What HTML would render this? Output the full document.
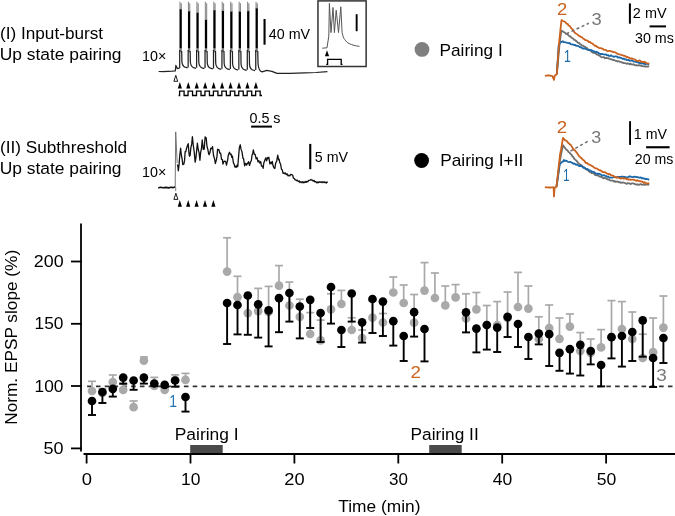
<!DOCTYPE html>
<html><head><meta charset="utf-8"><title>Figure</title>
<style>html,body{margin:0;padding:0;background:#fff;width:675px;height:516px;overflow:hidden}svg{display:block}</style>
</head><body>
<svg width="675" height="516" viewBox="0 0 675 516" font-family="Liberation Sans, Arial, Helvetica, sans-serif">
<rect width="675" height="516" fill="#fff"/>
<g stroke="#000" stroke-width="1.8" fill="none">
<line x1="81" y1="223.5" x2="81" y2="451.5"/>
<line x1="71" y1="261.5" x2="81.9" y2="261.5"/>
<line x1="71" y1="323.8" x2="81.9" y2="323.8"/>
<line x1="71" y1="386" x2="81.9" y2="386"/>
<line x1="71" y1="448.4" x2="81.9" y2="448.4"/>
<line x1="83.5" y1="454" x2="675" y2="454"/>
<line x1="86.6" y1="453" x2="86.6" y2="463.5"/>
<line x1="190.5" y1="453" x2="190.5" y2="463.5"/>
<line x1="294.4" y1="453" x2="294.4" y2="463.5"/>
<line x1="398.3" y1="453" x2="398.3" y2="463.5"/>
<line x1="502.2" y1="453" x2="502.2" y2="463.5"/>
<line x1="606.1" y1="453" x2="606.1" y2="463.5"/>
</g>
<line x1="87.1" y1="386.4" x2="675" y2="386.4" stroke="#333" stroke-width="1.7" stroke-dasharray="4.6 4.2"/>
<rect x="190.2" y="445" width="32.5" height="8" fill="#4a4a4a"/>
<rect x="429.2" y="445" width="32.5" height="8" fill="#4a4a4a"/>
<g stroke="#a9a9a9" stroke-width="1.7" fill="#a9a9a9">
<line x1="92.0" y1="391" x2="92.0" y2="381.3"/>
<line x1="88.0" y1="381.3" x2="96.0" y2="381.3"/>
<line x1="102.4" y1="393" x2="102.4" y2="389"/>
<line x1="98.4" y1="389" x2="106.4" y2="389"/>
<line x1="112.8" y1="382" x2="112.8" y2="375"/>
<line x1="108.8" y1="375" x2="116.8" y2="375"/>
<line x1="123.2" y1="389.8" x2="123.2" y2="383"/>
<line x1="119.2" y1="383" x2="127.2" y2="383"/>
<line x1="133.6" y1="407.2" x2="133.6" y2="401"/>
<line x1="129.6" y1="401" x2="137.6" y2="401"/>
<line x1="143.9" y1="360.6" x2="143.9" y2="357"/>
<line x1="139.9" y1="357" x2="147.9" y2="357"/>
<line x1="154.3" y1="386" x2="154.3" y2="377.4"/>
<line x1="150.3" y1="377.4" x2="158.3" y2="377.4"/>
<line x1="164.7" y1="389.8" x2="164.7" y2="386"/>
<line x1="160.7" y1="386" x2="168.7" y2="386"/>
<line x1="175.1" y1="380" x2="175.1" y2="374.9"/>
<line x1="171.1" y1="374.9" x2="179.1" y2="374.9"/>
<line x1="185.5" y1="379.9" x2="185.5" y2="373.4"/>
<line x1="181.5" y1="373.4" x2="189.5" y2="373.4"/>
<line x1="227.1" y1="271.6" x2="227.1" y2="237.8"/>
<line x1="223.1" y1="237.8" x2="231.1" y2="237.8"/>
<line x1="237.5" y1="297.2" x2="237.5" y2="276.3"/>
<line x1="233.5" y1="276.3" x2="241.5" y2="276.3"/>
<line x1="247.8" y1="313.1" x2="247.8" y2="297"/>
<line x1="243.8" y1="297" x2="251.8" y2="297"/>
<line x1="258.2" y1="311.1" x2="258.2" y2="288.4"/>
<line x1="254.2" y1="288.4" x2="262.2" y2="288.4"/>
<line x1="268.6" y1="312" x2="268.6" y2="286.4"/>
<line x1="264.6" y1="286.4" x2="272.6" y2="286.4"/>
<line x1="279.0" y1="285.7" x2="279.0" y2="265.6"/>
<line x1="275.0" y1="265.6" x2="283.0" y2="265.6"/>
<line x1="289.4" y1="305.5" x2="289.4" y2="282.1"/>
<line x1="285.4" y1="282.1" x2="293.4" y2="282.1"/>
<line x1="299.8" y1="316.8" x2="299.8" y2="299.2"/>
<line x1="295.8" y1="299.2" x2="303.8" y2="299.2"/>
<line x1="310.2" y1="334" x2="310.2" y2="312.6"/>
<line x1="306.2" y1="312.6" x2="314.2" y2="312.6"/>
<line x1="320.6" y1="340.4" x2="320.6" y2="320.1"/>
<line x1="316.6" y1="320.1" x2="324.6" y2="320.1"/>
<line x1="331.0" y1="309.4" x2="331.0" y2="293.8"/>
<line x1="327.0" y1="293.8" x2="335.0" y2="293.8"/>
<line x1="341.4" y1="304" x2="341.4" y2="290.4"/>
<line x1="337.4" y1="290.4" x2="345.4" y2="290.4"/>
<line x1="351.7" y1="330" x2="351.7" y2="317.8"/>
<line x1="347.7" y1="317.8" x2="355.7" y2="317.8"/>
<line x1="362.1" y1="338" x2="362.1" y2="330"/>
<line x1="358.1" y1="330" x2="366.1" y2="330"/>
<line x1="372.5" y1="317.7" x2="372.5" y2="301"/>
<line x1="368.5" y1="301" x2="376.5" y2="301"/>
<line x1="382.9" y1="322.5" x2="382.9" y2="313.5"/>
<line x1="378.9" y1="313.5" x2="386.9" y2="313.5"/>
<line x1="393.3" y1="292.5" x2="393.3" y2="277"/>
<line x1="389.3" y1="277" x2="397.3" y2="277"/>
<line x1="403.7" y1="303" x2="403.7" y2="285"/>
<line x1="399.7" y1="285" x2="407.7" y2="285"/>
<line x1="414.1" y1="322.7" x2="414.1" y2="294.5"/>
<line x1="410.1" y1="294.5" x2="418.1" y2="294.5"/>
<line x1="424.5" y1="290.6" x2="424.5" y2="262.6"/>
<line x1="420.5" y1="262.6" x2="428.5" y2="262.6"/>
<line x1="434.9" y1="298" x2="434.9" y2="273"/>
<line x1="430.9" y1="273" x2="438.9" y2="273"/>
<line x1="445.3" y1="305.4" x2="445.3" y2="286"/>
<line x1="441.3" y1="286" x2="449.3" y2="286"/>
<line x1="455.6" y1="297.4" x2="455.6" y2="284.6"/>
<line x1="451.6" y1="284.6" x2="459.6" y2="284.6"/>
<line x1="466.0" y1="318.5" x2="466.0" y2="293.8"/>
<line x1="462.0" y1="293.8" x2="470.0" y2="293.8"/>
<line x1="476.4" y1="309.4" x2="476.4" y2="292.5"/>
<line x1="472.4" y1="292.5" x2="480.4" y2="292.5"/>
<line x1="486.8" y1="325" x2="486.8" y2="305.5"/>
<line x1="482.8" y1="305.5" x2="490.8" y2="305.5"/>
<line x1="497.2" y1="325" x2="497.2" y2="301.6"/>
<line x1="493.2" y1="301.6" x2="501.2" y2="301.6"/>
<line x1="507.6" y1="318" x2="507.6" y2="292"/>
<line x1="503.6" y1="292" x2="511.6" y2="292"/>
<line x1="518.0" y1="307" x2="518.0" y2="272.4"/>
<line x1="514.0" y1="272.4" x2="522.0" y2="272.4"/>
<line x1="528.4" y1="308.6" x2="528.4" y2="286"/>
<line x1="524.4" y1="286" x2="532.4" y2="286"/>
<line x1="538.8" y1="339" x2="538.8" y2="316.8"/>
<line x1="534.8" y1="316.8" x2="542.8" y2="316.8"/>
<line x1="549.2" y1="328" x2="549.2" y2="305"/>
<line x1="545.2" y1="305" x2="553.2" y2="305"/>
<line x1="559.5" y1="338.8" x2="559.5" y2="318"/>
<line x1="555.5" y1="318" x2="563.5" y2="318"/>
<line x1="569.9" y1="326.6" x2="569.9" y2="314"/>
<line x1="565.9" y1="314" x2="573.9" y2="314"/>
<line x1="580.3" y1="350.8" x2="580.3" y2="332.6"/>
<line x1="576.3" y1="332.6" x2="584.3" y2="332.6"/>
<line x1="590.7" y1="353" x2="590.7" y2="339"/>
<line x1="586.7" y1="339" x2="594.7" y2="339"/>
<line x1="601.1" y1="347.4" x2="601.1" y2="329.6"/>
<line x1="597.1" y1="329.6" x2="605.1" y2="329.6"/>
<line x1="611.5" y1="337" x2="611.5" y2="300.6"/>
<line x1="607.5" y1="300.6" x2="615.5" y2="300.6"/>
<line x1="621.9" y1="329" x2="621.9" y2="301.6"/>
<line x1="617.9" y1="301.6" x2="625.9" y2="301.6"/>
<line x1="632.3" y1="339" x2="632.3" y2="312"/>
<line x1="628.3" y1="312" x2="636.3" y2="312"/>
<line x1="642.7" y1="358" x2="642.7" y2="334.2"/>
<line x1="638.7" y1="334.2" x2="646.7" y2="334.2"/>
<line x1="653.1" y1="352.2" x2="653.1" y2="318"/>
<line x1="649.1" y1="318" x2="657.1" y2="318"/>
<line x1="663.4" y1="327.6" x2="663.4" y2="296"/>
<line x1="659.4" y1="296" x2="667.4" y2="296"/>
<circle cx="92.0" cy="391" r="4.35" stroke="none"/>
<circle cx="102.4" cy="393" r="4.35" stroke="none"/>
<circle cx="112.8" cy="382" r="4.35" stroke="none"/>
<circle cx="123.2" cy="389.8" r="4.35" stroke="none"/>
<circle cx="133.6" cy="407.2" r="4.35" stroke="none"/>
<circle cx="143.9" cy="360.6" r="4.35" stroke="none"/>
<circle cx="154.3" cy="386" r="4.35" stroke="none"/>
<circle cx="164.7" cy="389.8" r="4.35" stroke="none"/>
<circle cx="175.1" cy="380" r="4.35" stroke="none"/>
<circle cx="185.5" cy="379.9" r="4.35" stroke="none"/>
<circle cx="227.1" cy="271.6" r="4.35" stroke="none"/>
<circle cx="237.5" cy="297.2" r="4.35" stroke="none"/>
<circle cx="247.8" cy="313.1" r="4.35" stroke="none"/>
<circle cx="258.2" cy="311.1" r="4.35" stroke="none"/>
<circle cx="268.6" cy="312" r="4.35" stroke="none"/>
<circle cx="279.0" cy="285.7" r="4.35" stroke="none"/>
<circle cx="289.4" cy="305.5" r="4.35" stroke="none"/>
<circle cx="299.8" cy="316.8" r="4.35" stroke="none"/>
<circle cx="310.2" cy="334" r="4.35" stroke="none"/>
<circle cx="320.6" cy="340.4" r="4.35" stroke="none"/>
<circle cx="331.0" cy="309.4" r="4.35" stroke="none"/>
<circle cx="341.4" cy="304" r="4.35" stroke="none"/>
<circle cx="351.7" cy="330" r="4.35" stroke="none"/>
<circle cx="362.1" cy="338" r="4.35" stroke="none"/>
<circle cx="372.5" cy="317.7" r="4.35" stroke="none"/>
<circle cx="382.9" cy="322.5" r="4.35" stroke="none"/>
<circle cx="393.3" cy="292.5" r="4.35" stroke="none"/>
<circle cx="403.7" cy="303" r="4.35" stroke="none"/>
<circle cx="414.1" cy="322.7" r="4.35" stroke="none"/>
<circle cx="424.5" cy="290.6" r="4.35" stroke="none"/>
<circle cx="434.9" cy="298" r="4.35" stroke="none"/>
<circle cx="445.3" cy="305.4" r="4.35" stroke="none"/>
<circle cx="455.6" cy="297.4" r="4.35" stroke="none"/>
<circle cx="466.0" cy="318.5" r="4.35" stroke="none"/>
<circle cx="476.4" cy="309.4" r="4.35" stroke="none"/>
<circle cx="486.8" cy="325" r="4.35" stroke="none"/>
<circle cx="497.2" cy="325" r="4.35" stroke="none"/>
<circle cx="507.6" cy="318" r="4.35" stroke="none"/>
<circle cx="518.0" cy="307" r="4.35" stroke="none"/>
<circle cx="528.4" cy="308.6" r="4.35" stroke="none"/>
<circle cx="538.8" cy="339" r="4.35" stroke="none"/>
<circle cx="549.2" cy="328" r="4.35" stroke="none"/>
<circle cx="559.5" cy="338.8" r="4.35" stroke="none"/>
<circle cx="569.9" cy="326.6" r="4.35" stroke="none"/>
<circle cx="580.3" cy="350.8" r="4.35" stroke="none"/>
<circle cx="590.7" cy="353" r="4.35" stroke="none"/>
<circle cx="601.1" cy="347.4" r="4.35" stroke="none"/>
<circle cx="611.5" cy="337" r="4.35" stroke="none"/>
<circle cx="621.9" cy="329" r="4.35" stroke="none"/>
<circle cx="632.3" cy="339" r="4.35" stroke="none"/>
<circle cx="642.7" cy="358" r="4.35" stroke="none"/>
<circle cx="653.1" cy="352.2" r="4.35" stroke="none"/>
<circle cx="663.4" cy="327.6" r="4.35" stroke="none"/>
</g>
<g stroke="#000" stroke-width="1.9" fill="#000">
<line x1="92.0" y1="401" x2="92.0" y2="415"/>
<line x1="88.0" y1="415" x2="96.0" y2="415"/>
<line x1="102.4" y1="392" x2="102.4" y2="403"/>
<line x1="98.4" y1="403" x2="106.4" y2="403"/>
<line x1="112.8" y1="388.8" x2="112.8" y2="396.6"/>
<line x1="108.8" y1="396.6" x2="116.8" y2="396.6"/>
<line x1="123.2" y1="377.6" x2="123.2" y2="383.8"/>
<line x1="119.2" y1="383.8" x2="127.2" y2="383.8"/>
<line x1="133.6" y1="380.5" x2="133.6" y2="389.8"/>
<line x1="129.6" y1="389.8" x2="137.6" y2="389.8"/>
<line x1="143.9" y1="377.6" x2="143.9" y2="383.6"/>
<line x1="139.9" y1="383.6" x2="147.9" y2="383.6"/>
<line x1="154.3" y1="383.5" x2="154.3" y2="386"/>
<line x1="150.3" y1="386" x2="158.3" y2="386"/>
<line x1="164.7" y1="384.8" x2="164.7" y2="387"/>
<line x1="160.7" y1="387" x2="168.7" y2="387"/>
<line x1="175.1" y1="380.5" x2="175.1" y2="386.7"/>
<line x1="171.1" y1="386.7" x2="179.1" y2="386.7"/>
<line x1="185.5" y1="397" x2="185.5" y2="411.6"/>
<line x1="181.5" y1="411.6" x2="189.5" y2="411.6"/>
<line x1="227.1" y1="303" x2="227.1" y2="344"/>
<line x1="223.1" y1="344" x2="231.1" y2="344"/>
<line x1="237.5" y1="305" x2="237.5" y2="334.4"/>
<line x1="233.5" y1="334.4" x2="241.5" y2="334.4"/>
<line x1="247.8" y1="295.5" x2="247.8" y2="334.8"/>
<line x1="243.8" y1="334.8" x2="251.8" y2="334.8"/>
<line x1="258.2" y1="304.3" x2="258.2" y2="337.6"/>
<line x1="254.2" y1="337.6" x2="262.2" y2="337.6"/>
<line x1="268.6" y1="310.4" x2="268.6" y2="346.4"/>
<line x1="264.6" y1="346.4" x2="272.6" y2="346.4"/>
<line x1="279.0" y1="298.2" x2="279.0" y2="332.2"/>
<line x1="275.0" y1="332.2" x2="283.0" y2="332.2"/>
<line x1="289.4" y1="293" x2="289.4" y2="321.6"/>
<line x1="285.4" y1="321.6" x2="293.4" y2="321.6"/>
<line x1="299.8" y1="306.5" x2="299.8" y2="338.4"/>
<line x1="295.8" y1="338.4" x2="303.8" y2="338.4"/>
<line x1="310.2" y1="299.8" x2="310.2" y2="328"/>
<line x1="306.2" y1="328" x2="314.2" y2="328"/>
<line x1="320.6" y1="313" x2="320.6" y2="342"/>
<line x1="316.6" y1="342" x2="324.6" y2="342"/>
<line x1="331.0" y1="287" x2="331.0" y2="323.6"/>
<line x1="327.0" y1="323.6" x2="335.0" y2="323.6"/>
<line x1="341.4" y1="330" x2="341.4" y2="347"/>
<line x1="337.4" y1="347" x2="345.4" y2="347"/>
<line x1="351.7" y1="293.5" x2="351.7" y2="321.6"/>
<line x1="347.7" y1="321.6" x2="355.7" y2="321.6"/>
<line x1="362.1" y1="322.3" x2="362.1" y2="342.6"/>
<line x1="358.1" y1="342.6" x2="366.1" y2="342.6"/>
<line x1="372.5" y1="299" x2="372.5" y2="333"/>
<line x1="368.5" y1="333" x2="376.5" y2="333"/>
<line x1="382.9" y1="301.6" x2="382.9" y2="336"/>
<line x1="378.9" y1="336" x2="386.9" y2="336"/>
<line x1="393.3" y1="321.2" x2="393.3" y2="345.6"/>
<line x1="389.3" y1="345.6" x2="397.3" y2="345.6"/>
<line x1="403.7" y1="336" x2="403.7" y2="361"/>
<line x1="399.7" y1="361" x2="407.7" y2="361"/>
<line x1="414.1" y1="312.2" x2="414.1" y2="336.6"/>
<line x1="410.1" y1="336.6" x2="418.1" y2="336.6"/>
<line x1="424.5" y1="329" x2="424.5" y2="361.4"/>
<line x1="420.5" y1="361.4" x2="428.5" y2="361.4"/>
<line x1="466.0" y1="312.4" x2="466.0" y2="332.4"/>
<line x1="462.0" y1="332.4" x2="470.0" y2="332.4"/>
<line x1="476.4" y1="328.6" x2="476.4" y2="352.4"/>
<line x1="472.4" y1="352.4" x2="480.4" y2="352.4"/>
<line x1="486.8" y1="325" x2="486.8" y2="349.6"/>
<line x1="482.8" y1="349.6" x2="490.8" y2="349.6"/>
<line x1="497.2" y1="327.6" x2="497.2" y2="352"/>
<line x1="493.2" y1="352" x2="501.2" y2="352"/>
<line x1="507.6" y1="316.8" x2="507.6" y2="337"/>
<line x1="503.6" y1="337" x2="511.6" y2="337"/>
<line x1="518.0" y1="324" x2="518.0" y2="347"/>
<line x1="514.0" y1="347" x2="522.0" y2="347"/>
<line x1="528.4" y1="337" x2="528.4" y2="359"/>
<line x1="524.4" y1="359" x2="532.4" y2="359"/>
<line x1="538.8" y1="333.6" x2="538.8" y2="344.4"/>
<line x1="534.8" y1="344.4" x2="542.8" y2="344.4"/>
<line x1="549.2" y1="334.2" x2="549.2" y2="366"/>
<line x1="545.2" y1="366" x2="553.2" y2="366"/>
<line x1="559.5" y1="352.8" x2="559.5" y2="370.8"/>
<line x1="555.5" y1="370.8" x2="563.5" y2="370.8"/>
<line x1="569.9" y1="349.2" x2="569.9" y2="373.6"/>
<line x1="565.9" y1="373.6" x2="573.9" y2="373.6"/>
<line x1="580.3" y1="344.8" x2="580.3" y2="375.5"/>
<line x1="576.3" y1="375.5" x2="584.3" y2="375.5"/>
<line x1="590.7" y1="351" x2="590.7" y2="364.4"/>
<line x1="586.7" y1="364.4" x2="594.7" y2="364.4"/>
<line x1="601.1" y1="365" x2="601.1" y2="386.4"/>
<line x1="597.1" y1="386.4" x2="605.1" y2="386.4"/>
<line x1="611.5" y1="337.2" x2="611.5" y2="358.4"/>
<line x1="607.5" y1="358.4" x2="615.5" y2="358.4"/>
<line x1="621.9" y1="336" x2="621.9" y2="366.6"/>
<line x1="617.9" y1="366.6" x2="625.9" y2="366.6"/>
<line x1="632.3" y1="332" x2="632.3" y2="361"/>
<line x1="628.3" y1="361" x2="636.3" y2="361"/>
<line x1="642.7" y1="320.4" x2="642.7" y2="356.7"/>
<line x1="638.7" y1="356.7" x2="646.7" y2="356.7"/>
<line x1="653.1" y1="358" x2="653.1" y2="387"/>
<line x1="649.1" y1="387" x2="657.1" y2="387"/>
<line x1="663.4" y1="338" x2="663.4" y2="363"/>
<line x1="659.4" y1="363" x2="667.4" y2="363"/>
<circle cx="92.0" cy="401" r="4.35" stroke="none"/>
<circle cx="102.4" cy="392" r="4.35" stroke="none"/>
<circle cx="112.8" cy="388.8" r="4.35" stroke="none"/>
<circle cx="123.2" cy="377.6" r="4.35" stroke="none"/>
<circle cx="133.6" cy="380.5" r="4.35" stroke="none"/>
<circle cx="143.9" cy="377.6" r="4.35" stroke="none"/>
<circle cx="154.3" cy="383.5" r="4.35" stroke="none"/>
<circle cx="164.7" cy="384.8" r="4.35" stroke="none"/>
<circle cx="175.1" cy="380.5" r="4.35" stroke="none"/>
<circle cx="185.5" cy="397" r="4.35" stroke="none"/>
<circle cx="227.1" cy="303" r="4.35" stroke="none"/>
<circle cx="237.5" cy="305" r="4.35" stroke="none"/>
<circle cx="247.8" cy="295.5" r="4.35" stroke="none"/>
<circle cx="258.2" cy="304.3" r="4.35" stroke="none"/>
<circle cx="268.6" cy="310.4" r="4.35" stroke="none"/>
<circle cx="279.0" cy="298.2" r="4.35" stroke="none"/>
<circle cx="289.4" cy="293" r="4.35" stroke="none"/>
<circle cx="299.8" cy="306.5" r="4.35" stroke="none"/>
<circle cx="310.2" cy="299.8" r="4.35" stroke="none"/>
<circle cx="320.6" cy="313" r="4.35" stroke="none"/>
<circle cx="331.0" cy="287" r="4.35" stroke="none"/>
<circle cx="341.4" cy="330" r="4.35" stroke="none"/>
<circle cx="351.7" cy="293.5" r="4.35" stroke="none"/>
<circle cx="362.1" cy="322.3" r="4.35" stroke="none"/>
<circle cx="372.5" cy="299" r="4.35" stroke="none"/>
<circle cx="382.9" cy="301.6" r="4.35" stroke="none"/>
<circle cx="393.3" cy="321.2" r="4.35" stroke="none"/>
<circle cx="403.7" cy="336" r="4.35" stroke="none"/>
<circle cx="414.1" cy="312.2" r="4.35" stroke="none"/>
<circle cx="424.5" cy="329" r="4.35" stroke="none"/>
<circle cx="466.0" cy="312.4" r="4.35" stroke="none"/>
<circle cx="476.4" cy="328.6" r="4.35" stroke="none"/>
<circle cx="486.8" cy="325" r="4.35" stroke="none"/>
<circle cx="497.2" cy="327.6" r="4.35" stroke="none"/>
<circle cx="507.6" cy="316.8" r="4.35" stroke="none"/>
<circle cx="518.0" cy="324" r="4.35" stroke="none"/>
<circle cx="528.4" cy="337" r="4.35" stroke="none"/>
<circle cx="538.8" cy="333.6" r="4.35" stroke="none"/>
<circle cx="549.2" cy="334.2" r="4.35" stroke="none"/>
<circle cx="559.5" cy="352.8" r="4.35" stroke="none"/>
<circle cx="569.9" cy="349.2" r="4.35" stroke="none"/>
<circle cx="580.3" cy="344.8" r="4.35" stroke="none"/>
<circle cx="590.7" cy="351" r="4.35" stroke="none"/>
<circle cx="601.1" cy="365" r="4.35" stroke="none"/>
<circle cx="611.5" cy="337.2" r="4.35" stroke="none"/>
<circle cx="621.9" cy="336" r="4.35" stroke="none"/>
<circle cx="632.3" cy="332" r="4.35" stroke="none"/>
<circle cx="642.7" cy="320.4" r="4.35" stroke="none"/>
<circle cx="653.1" cy="358" r="4.35" stroke="none"/>
<circle cx="663.4" cy="338" r="4.35" stroke="none"/>
</g>
<text x="33.80" y="266.8" font-size="16.4" fill="#000" textLength="29.80" lengthAdjust="spacingAndGlyphs">200</text>
<text x="34.58" y="329.0" font-size="16.4" fill="#000" textLength="28.90" lengthAdjust="spacingAndGlyphs">150</text>
<text x="34.58" y="391.6" font-size="16.4" fill="#000" textLength="28.90" lengthAdjust="spacingAndGlyphs">100</text>
<text x="43.48" y="454.0" font-size="16.4" fill="#000" textLength="20.02" lengthAdjust="spacingAndGlyphs">50</text>
<text x="81.88" y="484.8" font-size="16.4" fill="#000" textLength="10.24" lengthAdjust="spacingAndGlyphs">0</text>
<text x="181.07" y="484.8" font-size="16.4" fill="#000" textLength="19.41" lengthAdjust="spacingAndGlyphs">10</text>
<text x="284.28" y="484.8" font-size="16.4" fill="#000" textLength="20.33" lengthAdjust="spacingAndGlyphs">20</text>
<text x="389.05" y="484.8" font-size="16.4" fill="#000" textLength="18.91" lengthAdjust="spacingAndGlyphs">30</text>
<text x="492.80" y="484.8" font-size="16.4" fill="#000" textLength="19.49" lengthAdjust="spacingAndGlyphs">40</text>
<text x="596.69" y="484.8" font-size="16.4" fill="#000" textLength="19.59" lengthAdjust="spacingAndGlyphs">50</text>
<text x="338.31" y="511.9" font-size="17.2" fill="#000" textLength="82.15" lengthAdjust="spacingAndGlyphs">Time (min)</text>
<text x="174.77" y="439.6" font-size="16.9" fill="#000" textLength="63.83" lengthAdjust="spacingAndGlyphs">Pairing I</text>
<text x="410.58" y="439.6" font-size="16.9" fill="#000" textLength="68.11" lengthAdjust="spacingAndGlyphs">Pairing II</text>
<text transform="translate(16.9 423.4) rotate(-90)" x="-1.41" y="0" font-size="17.3" textLength="174.98" lengthAdjust="spacingAndGlyphs">Norm. EPSP slope (%)</text>
<text x="169.24" y="407.2" font-size="16.5" fill="#1f74b8" textLength="7.74" lengthAdjust="spacingAndGlyphs">1</text>
<text x="410.46" y="377.9" font-size="16.8" fill="#cc641e" textLength="10.38" lengthAdjust="spacingAndGlyphs">2</text>
<text x="656.28" y="380.6" font-size="16.5" fill="#7a7a7a" textLength="10.56" lengthAdjust="spacingAndGlyphs">3</text>
<text x="-0.07" y="39.2" font-size="16.9" fill="#000" textLength="103.19" lengthAdjust="spacingAndGlyphs">(I) Input-burst</text>
<text x="-0.34" y="60.0" font-size="16.9" fill="#000" textLength="121.86" lengthAdjust="spacingAndGlyphs">Up state pairing</text>
<text x="-0.07" y="153.2" font-size="16.9" fill="#000" textLength="127.18" lengthAdjust="spacingAndGlyphs">(II) Subthreshold</text>
<text x="-0.34" y="173.8" font-size="16.9" fill="#000" textLength="121.86" lengthAdjust="spacingAndGlyphs">Up state pairing</text>
<text x="142.01" y="61.2" font-size="13.8" fill="#000" textLength="24.28" lengthAdjust="spacingAndGlyphs">10×</text>
<text x="142.01" y="177.4" font-size="13.8" fill="#000" textLength="24.28" lengthAdjust="spacingAndGlyphs">10×</text>
<rect x="179.50" y="8.9" width="2.3" height="39.7" fill="#000"/>
<rect x="179.50" y="48.6" width="2.3" height="3.6" fill="#777"/>
<path d="M180.00 9.4 L180.00 1.8 M181.30 9.4 L181.30 3.2" stroke="#8c8c8c" stroke-width="1.1" fill="none"/>
<rect x="187.95" y="11" width="2.3" height="37.6" fill="#000"/>
<rect x="187.95" y="48.6" width="2.3" height="3.6" fill="#777"/>
<path d="M188.45 11.5 L188.45 1.8 M189.75 11.5 L189.75 3.2" stroke="#8c8c8c" stroke-width="1.1" fill="none"/>
<rect x="196.40" y="12.4" width="2.3" height="36.2" fill="#000"/>
<rect x="196.40" y="48.6" width="2.3" height="3.6" fill="#777"/>
<path d="M196.90 12.9 L196.90 1.8 M198.20 12.9 L198.20 3.2" stroke="#8c8c8c" stroke-width="1.1" fill="none"/>
<rect x="204.85" y="19.5" width="2.3" height="29.1" fill="#000"/>
<rect x="204.85" y="48.6" width="2.3" height="3.6" fill="#777"/>
<path d="M205.35 20.0 L205.35 1.8 M206.65 20.0 L206.65 3.2" stroke="#8c8c8c" stroke-width="1.1" fill="none"/>
<rect x="213.30" y="10" width="2.3" height="38.6" fill="#000"/>
<rect x="213.30" y="48.6" width="2.3" height="3.6" fill="#777"/>
<path d="M213.80 10.5 L213.80 1.8 M215.10 10.5 L215.10 3.2" stroke="#8c8c8c" stroke-width="1.1" fill="none"/>
<rect x="221.75" y="10.4" width="2.3" height="38.2" fill="#000"/>
<rect x="221.75" y="48.6" width="2.3" height="3.6" fill="#777"/>
<path d="M222.25 10.9 L222.25 1.8 M223.55 10.9 L223.55 3.2" stroke="#8c8c8c" stroke-width="1.1" fill="none"/>
<rect x="230.20" y="11.2" width="2.3" height="37.4" fill="#000"/>
<rect x="230.20" y="48.6" width="2.3" height="3.6" fill="#777"/>
<path d="M230.70 11.7 L230.70 1.8 M232.00 11.7 L232.00 3.2" stroke="#8c8c8c" stroke-width="1.1" fill="none"/>
<rect x="238.65" y="11.2" width="2.3" height="37.4" fill="#000"/>
<rect x="238.65" y="48.6" width="2.3" height="3.6" fill="#777"/>
<path d="M239.15 11.7 L239.15 1.8 M240.45 11.7 L240.45 3.2" stroke="#8c8c8c" stroke-width="1.1" fill="none"/>
<rect x="247.10" y="10.7" width="2.3" height="37.9" fill="#000"/>
<rect x="247.10" y="48.6" width="2.3" height="3.6" fill="#777"/>
<path d="M247.60 11.2 L247.60 1.8 M248.90 11.2 L248.90 3.2" stroke="#8c8c8c" stroke-width="1.1" fill="none"/>
<rect x="255.55" y="7.9" width="2.3" height="40.7" fill="#000"/>
<rect x="255.55" y="48.6" width="2.3" height="3.6" fill="#777"/>
<path d="M256.05 8.4 L256.05 1.8 M257.35 8.4 L257.35 3.2" stroke="#8c8c8c" stroke-width="1.1" fill="none"/>
<path d="M158.6 71.5 L163.0 71.7 L168.0 71.3 L172.0 71.2 L175.3 71.0 L175.9 65.4 L177.3 68.6 L179.1 68.1 L179.7 67.5 L179.7 50 M179.70 67.0 L179.70 50 M181.70 51 L181.90 61.6 C182.20 65.1 183.40 66.6 185.10 67.2 L187.50 67.9 M188.15 67.4 L188.15 50 M190.15 51 L190.35 62.0 C190.65 65.5 191.85 67.0 193.55 67.6 L195.95 68.3 M196.60 67.7 L196.60 50 M198.60 51 L198.80 62.3 C199.10 65.8 200.30 67.3 202.00 67.9 L204.40 68.6 M205.05 68.0 L205.05 50 M207.05 51 L207.25 62.6 C207.55 66.1 208.75 67.6 210.45 68.2 L212.85 68.9 M213.50 68.4 L213.50 50 M215.50 51 L215.70 63.0 C216.00 66.5 217.20 68.0 218.90 68.6 L221.30 69.3 M221.95 68.7 L221.95 50 M223.95 51 L224.15 63.3 C224.45 66.8 225.65 68.3 227.35 68.9 L229.75 69.6 M230.40 69.1 L230.40 50 M232.40 51 L232.60 63.7 C232.90 67.2 234.10 68.7 235.80 69.3 L238.20 70.0 M238.85 69.4 L238.85 50 M240.85 51 L241.05 64.0 C241.35 67.5 242.55 69.0 244.25 69.6 L246.65 70.3 M247.30 69.8 L247.30 50 M249.30 51 L249.50 64.4 C249.80 67.9 251.00 69.4 252.70 70.0 L255.10 70.7 M255.75 70 L255.75 50 M257.75 51 L258.05 64 C258.55 69 260.05 71.5 262.15 71.8 L266.7 70.4 L271.9 71.3 L277 73.3 L290 73.3 L305 72.9 L316 72.5 L327.4 71.6" stroke="#222" stroke-width="1.25" fill="none" stroke-linejoin="round"/>
<polygon points="173.9,81.3 177.7,81.3 175.8,75.4" fill="#fff" stroke="#000" stroke-width="0.9"/>
<polygon points="177.75,88.5 181.95,88.5 179.85,81.9" fill="#000"/>
<polygon points="186.20,88.5 190.40,88.5 188.30,81.9" fill="#000"/>
<polygon points="194.65,88.5 198.85,88.5 196.75,81.9" fill="#000"/>
<polygon points="203.10,88.5 207.30,88.5 205.20,81.9" fill="#000"/>
<polygon points="211.55,88.5 215.75,88.5 213.65,81.9" fill="#000"/>
<polygon points="220.00,88.5 224.20,88.5 222.10,81.9" fill="#000"/>
<polygon points="228.45,88.5 232.65,88.5 230.55,81.9" fill="#000"/>
<polygon points="236.90,88.5 241.10,88.5 239.00,81.9" fill="#000"/>
<polygon points="245.35,88.5 249.55,88.5 247.45,81.9" fill="#000"/>
<polygon points="253.80,88.5 258.00,88.5 255.90,81.9" fill="#000"/>
<path d="M178.6 95.5 L179.60 95.5 L179.60 91.1 L184.10 91.1 L184.10 95.5 L188.05 95.5 L188.05 91.1 L192.55 91.1 L192.55 95.5 L196.50 95.5 L196.50 91.1 L201.00 91.1 L201.00 95.5 L204.95 95.5 L204.95 91.1 L209.45 91.1 L209.45 95.5 L213.40 95.5 L213.40 91.1 L217.90 91.1 L217.90 95.5 L221.85 95.5 L221.85 91.1 L226.35 91.1 L226.35 95.5 L230.30 95.5 L230.30 91.1 L234.80 91.1 L234.80 95.5 L238.75 95.5 L238.75 91.1 L243.25 91.1 L243.25 95.5 L247.20 95.5 L247.20 91.1 L251.70 91.1 L251.70 95.5 L255.65 95.5 L255.65 91.1 L260.15 91.1 L260.15 95.5 L262 95.5" stroke="#000" stroke-width="1.3" fill="none"/>
<rect x="263.5" y="19" width="2.1" height="25.7" fill="#000"/>
<text x="268.87" y="39" font-size="14.2" fill="#000" textLength="41.29" lengthAdjust="spacingAndGlyphs">40 mV</text>
<rect x="317.95" y="0.9" width="48.2" height="65.6" fill="none" stroke="#333" stroke-width="1.5"/>
<path d="M322.2 48.2 L327 47.8 L328.8 36 L329.4 3.4 L331 32.6 L333 7.5 L334.4 32.6 L336.2 10.2 L338.5 32.6 L340.8 6.8 L342.1 32.6 C343 36.5 343.8 38.6 344.6 39.3 C346 41.6 347.5 42.8 349 43.5 C352 45 356 46 359.5 46.4" stroke="#555" stroke-width="1" fill="none"/>
<rect x="355.7" y="14.2" width="1.9" height="17" fill="#000"/>
<polygon points="324.9,56.3 329.1,56.3 327,50.2" fill="#000"/>
<path d="M326.2 64.4 L327.6 64.4 L327.6 59.4 L341.2 59.4 L341.2 64.4 L342.5 64.4" stroke="#000" stroke-width="1.3" fill="none"/>
<path d="M158.20 187.90 L160.50 187.30 L163.00 187.80 L166.00 187.40 L168.50 187.90 L171.00 187.30 L173.50 187.60 L175.20 186.80" stroke="#111" stroke-width="1.6" fill="none" stroke-linejoin="round"/>
<path d="M175.2 186.8 L175.7 131.9 L177.2 163" stroke="#666" stroke-width="0.9" fill="none"/>
<path d="M177.20 164.63 L177.79 165.52 L178.33 170.79 L179.05 164.58 L179.86 154.57 L180.62 148.24 L181.17 153.76 L182.17 159.44 L182.80 164.71 L183.87 164.02 L184.61 160.14 L185.14 151.62 L185.81 151.71 L186.38 149.00 L187.37 145.66 L188.22 143.64 L188.94 152.81 L189.48 156.22 L190.10 155.42 L190.86 147.80 L191.71 143.90 L192.39 136.75 L193.31 145.75 L194.16 151.50 L195.18 162.17 L195.85 158.40 L196.43 152.86 L197.38 143.23 L198.17 149.10 L199.07 152.62 L199.92 160.27 L200.61 152.74 L201.46 148.52 L202.24 139.99 L203.30 149.38 L204.20 149.23 L205.12 136.85 L206.22 138.05 L206.89 145.58 L207.79 149.23 L208.57 153.46 L209.14 154.68 L210.10 152.05 L210.75 148.28 L211.77 148.71 L212.54 146.57 L213.57 155.77 L214.59 158.92 L215.34 163.51 L216.37 159.93 L216.96 156.64 L217.60 149.25 L218.39 149.60 L219.05 149.92 L219.80 153.19 L220.64 153.07 L221.55 159.44 L222.42 159.68 L222.95 164.12 L223.92 161.38 L224.90 161.20 L225.64 161.54 L226.52 165.13 L227.06 162.41 L227.66 160.11 L228.19 155.66 L228.78 154.05 L229.50 152.25 L230.52 154.70 L231.11 154.07 L231.82 157.25 L232.40 156.03 L233.49 163.03 L234.28 164.29 L234.84 166.97 L235.50 166.17 L236.10 167.52 L237.17 164.99 L237.76 166.71 L238.27 160.29 L239.36 147.68 L240.28 144.79 L241.00 149.13 L241.96 151.61 L242.93 158.13 L243.56 158.62 L244.65 165.74 L245.64 163.36 L246.58 165.13 L247.39 163.20 L247.91 163.31 L248.58 161.67 L249.49 165.44 L250.26 162.85 L251.35 160.51 L252.07 154.81 L252.71 153.93 L253.33 149.94 L254.37 154.33 L255.16 154.49 L256.14 158.88 L257.03 157.63 L258.00 161.89 L258.79 160.66 L259.76 163.11 L260.74 161.55 L261.48 166.07 L262.55 166.19 L263.15 168.43 L263.74 163.24 L264.73 160.59 L265.72 157.94 L266.62 160.81 L267.45 157.51 L267.96 158.66 L268.84 157.23 L269.91 163.97 L270.93 162.23 L271.55 163.70 L272.23 161.42 L273.08 165.83 L273.83 167.64 L274.88 168.47 L275.65 163.19 L276.70 161.09 L277.75 155.05 L278.57 159.73 L279.08 159.14 L279.69 162.26 L280.67 164.57 L281.45 169.14 L282.29 170.00 L283.10 173.30 L284.07 172.90 L284.90 173.77 L285.57 172.99 L286.37 174.62 L287.33 173.93 L288.10 175.93 L288.90 175.40 L289.82 175.88 L290.64 174.29 L291.70 174.67 L292.73 175.24 L293.38 177.99 L294.45 178.60 L295.03 179.89 L295.80 179.86 L296.44 180.56 L297.34 180.09 L298.38 181.57 L299.31 180.92 L299.89 182.52 L300.98 181.69 L302.05 182.71 L302.84 181.58 L303.84 182.91 L304.60 181.86 L305.30 182.42 L305.99 181.21 L306.50 182.28 L307.27 181.30 L307.97 181.71 L308.77 180.29 L309.87 180.37 L310.95 179.42 L311.61 180.14 L312.58 180.14 L313.15 181.23 L314.20 180.54 L314.85 181.88 L315.91 181.58 L316.83 182.82 L317.36 181.98 L318.12 182.70 L319.18 181.70 L320.16 182.35 L321.17 181.83 L322.19 182.61 L322.90 181.64 L323.95 182.65 L324.53 181.83 L325.17 182.65 L325.77 182.32 L326.39 182.94 L327.07 181.92 L327.70 182.70" stroke="#111" stroke-width="1.3" fill="none" stroke-linejoin="round"/>
<line x1="175.7" y1="187" x2="175.7" y2="191.2" stroke="#777" stroke-width="0.9"/>
<polygon points="173.9,199.4 177.9,199.4 175.9,193.3" fill="#fff" stroke="#000" stroke-width="0.9"/>
<polygon points="177.70,206.7 181.90,206.7 179.80,200.1" fill="#000"/>
<polygon points="186.10,206.7 190.30,206.7 188.20,200.1" fill="#000"/>
<polygon points="194.50,206.7 198.70,206.7 196.60,200.1" fill="#000"/>
<polygon points="202.90,206.7 207.10,206.7 205.00,200.1" fill="#000"/>
<polygon points="211.30,206.7 215.50,206.7 213.40,200.1" fill="#000"/>
<rect x="251.1" y="125.6" width="20.9" height="2" fill="#000"/>
<text x="249.44" y="123.3" font-size="14.2" fill="#000" textLength="31.08" lengthAdjust="spacingAndGlyphs">0.5 s</text>
<rect x="309.2" y="143.9" width="2.1" height="25.3" fill="#000"/>
<text x="314.83" y="161.5" font-size="14.2" fill="#000" textLength="33.13" lengthAdjust="spacingAndGlyphs">5 mV</text>
<circle cx="422" cy="49.4" r="7.4" fill="#7f7f7f"/>
<text x="439.49" y="55.8" font-size="17" fill="#000" textLength="63.20" lengthAdjust="spacingAndGlyphs">Pairing I</text>
<circle cx="421.6" cy="160.5" r="7.4" fill="#000"/>
<text x="440.18" y="165.9" font-size="17" fill="#000" textLength="83.11" lengthAdjust="spacingAndGlyphs">Pairing I+II</text>
<path d="M556.80 74.10 L557.70 64.40 L558.60 54.70 L559.50 45.00 L561.30 30.58 L562.20 31.28 L563.10 31.48 L564.00 32.24 L564.90 32.53 L565.80 33.78 L566.70 34.12 L567.60 34.29 L568.55 35.29 L569.50 36.46 L570.45 36.34 L571.40 37.77 L572.35 38.09 L573.30 38.87 L574.25 39.92 L575.20 40.19 L576.18 41.01 L577.16 41.89 L578.13 42.88 L579.11 42.94 L580.09 44.13 L581.07 44.71 L582.04 45.34 L583.02 45.80 L584.00 46.45 L584.98 46.79 L585.96 47.50 L586.93 48.07 L587.91 49.37 L588.89 49.52 L589.87 50.06 L590.84 50.62 L591.82 52.01 L592.80 52.67 L593.70 52.96 L594.60 53.06 L595.50 53.50 L596.40 54.04 L597.30 54.70 L598.20 54.88 L599.10 55.66 L600.00 55.96 L601.00 56.98 L602.00 57.31 L603.00 57.21 L604.00 57.22 L605.00 58.27 L606.00 57.85 L607.00 58.14 L608.00 58.02 L609.00 58.64 L610.00 58.97 L611.00 59.37 L612.00 59.43 L613.00 60.10 L614.00 59.97 L615.00 60.60 L616.00 60.79 L616.97 61.30 L617.95 61.14 L618.92 61.32 L619.89 61.80 L620.86 61.93 L621.84 62.49 L622.81 62.63 L623.78 63.05 L624.75 63.16 L625.73 63.42 L626.70 63.78 L627.67 63.45 L628.65 63.55 L629.62 64.38 L630.59 63.70 L631.56 64.44 L632.54 64.53 L633.51 64.09 L634.48 65.04 L635.45 65.26 L636.43 65.16 L637.40 65.43 L638.31 65.62 L639.22 65.05 L640.12 65.55 L641.03 65.64 L641.94 66.07 L642.85 66.15 L643.75 66.28 L644.66 66.15 L645.57 66.56 L646.48 66.46 L647.38 66.58 L648.29 66.22 L649.20 66.60" stroke="#6e6e6e" stroke-width="1.8" fill="none" stroke-linejoin="round"/>
<path d="M556.80 74.10 L557.70 60.10 L558.60 45.63 L560.00 42.43 L561.30 42.06 L562.60 41.20 L563.60 42.18 L564.60 42.14 L565.60 42.45 L566.60 42.69 L567.60 42.98 L568.55 43.10 L569.50 42.93 L570.45 44.04 L571.40 44.30 L572.35 44.37 L573.30 44.71 L574.25 45.15 L575.20 44.87 L576.18 45.89 L577.16 45.76 L578.13 45.94 L579.11 46.49 L580.09 47.31 L581.07 47.14 L582.04 48.03 L583.02 48.62 L584.00 48.49 L584.98 48.66 L585.96 49.03 L586.93 49.52 L587.91 49.88 L588.89 50.01 L589.87 50.31 L590.84 50.02 L591.82 50.37 L592.80 50.75 L593.70 51.57 L594.60 51.45 L595.50 52.04 L596.40 51.81 L597.30 52.19 L598.20 52.72 L599.10 53.45 L600.00 53.79 L601.00 54.00 L602.00 53.83 L603.00 54.28 L604.00 54.44 L605.00 54.67 L606.00 54.50 L607.00 55.45 L608.00 54.94 L609.00 55.90 L610.00 56.04 L611.00 55.30 L612.00 55.93 L613.00 56.47 L614.00 56.80 L615.00 56.47 L616.00 56.47 L616.97 56.68 L617.95 57.69 L618.92 57.23 L619.89 57.87 L620.86 57.71 L621.84 58.36 L622.81 59.06 L623.78 58.51 L624.75 59.47 L625.73 59.44 L626.70 60.09 L627.67 60.16 L628.65 59.94 L629.62 60.86 L630.59 60.70 L631.56 60.50 L632.54 60.73 L633.51 61.47 L634.48 61.69 L635.45 61.79 L636.43 61.89 L637.40 62.34 L638.31 62.46 L639.22 63.13 L640.12 62.44 L641.03 63.34 L641.94 63.57 L642.85 63.00 L643.75 63.95 L644.66 63.88 L645.57 64.22 L646.48 63.75 L647.38 63.98 L648.29 64.15 L649.20 64.40" stroke="#1b68a8" stroke-width="1.8" fill="none" stroke-linejoin="round"/>
<path d="M544.90 75.80 L545.92 75.70 L546.95 75.60 L547.98 75.50 L549.00 75.40 L550.13 75.63 L551.27 75.87 L552.40 76.10 L554.00 79.90 L554.60 76.00 L555.70 75.05 L556.80 74.10 L558.05 57.05 L559.30 40.50 L560.40 30.19 L561.50 20.06 L562.52 20.76 L563.53 21.24 L564.55 21.65 L565.57 22.34 L566.58 23.70 L567.60 23.79 L568.55 25.52 L569.50 25.92 L570.45 27.03 L571.40 28.36 L572.35 29.13 L573.30 30.40 L574.25 32.07 L575.20 33.08 L576.18 33.71 L577.16 34.23 L578.13 35.21 L579.11 35.94 L580.09 36.25 L581.07 37.12 L582.04 37.15 L583.02 38.53 L584.00 38.95 L584.98 39.81 L585.96 40.26 L586.93 40.45 L587.91 40.77 L588.89 42.20 L589.87 41.96 L590.84 42.86 L591.82 43.29 L592.80 43.80 L593.83 44.89 L594.87 45.78 L595.90 45.71 L596.93 46.76 L597.97 47.05 L599.00 47.96 L599.99 48.12 L600.97 48.22 L601.96 48.55 L602.94 48.92 L603.93 49.95 L604.91 49.87 L605.90 49.92 L606.92 50.88 L607.95 51.25 L608.98 50.97 L610.00 50.94 L611.00 51.28 L612.00 51.46 L613.00 51.99 L614.00 52.02 L615.00 52.46 L616.00 52.76 L616.97 53.43 L617.95 54.11 L618.92 54.34 L619.89 54.37 L620.86 54.73 L621.84 55.21 L622.81 55.42 L623.78 55.75 L624.75 55.83 L625.73 56.41 L626.70 57.47 L627.67 56.94 L628.65 57.64 L629.62 58.08 L630.59 58.64 L631.56 58.31 L632.54 58.68 L633.51 58.98 L634.48 59.45 L635.45 59.81 L636.43 60.64 L637.40 60.85 L638.31 61.10 L639.22 60.47 L640.12 60.70 L641.03 61.60 L641.94 62.01 L642.85 61.81 L643.75 62.15 L644.66 61.78 L645.57 62.40 L646.48 63.16 L647.38 63.28 L648.29 63.53 L649.20 63.40" stroke="#cb621e" stroke-width="1.8" fill="none" stroke-linejoin="round"/>
<line x1="566.4" y1="33.8" x2="588.8" y2="23.3" stroke="#6e6e6e" stroke-width="1.5" stroke-dasharray="3 2.6"/>
<text x="556.97" y="14.6" font-size="17" fill="#cb621e" textLength="10.25" lengthAdjust="spacingAndGlyphs">2</text>
<text x="591.60" y="24.8" font-size="17" fill="#777" textLength="10.21" lengthAdjust="spacingAndGlyphs">3</text>
<text x="564.06" y="62.3" font-size="17" fill="#1b68a8" textLength="6.84" lengthAdjust="spacingAndGlyphs">1</text>
<rect x="628.9" y="3.4" width="2" height="20.3" fill="#000"/>
<text x="632.87" y="18.4" font-size="14" fill="#000" textLength="33.69" lengthAdjust="spacingAndGlyphs">2 mV</text>
<rect x="649.6" y="25.4" width="16.4" height="2" fill="#000"/>
<text x="634.96" y="43.4" font-size="14" fill="#000" textLength="38.86" lengthAdjust="spacingAndGlyphs">30 ms</text>
<path d="M556.50 186.70 L557.67 177.80 L558.83 168.90 L560.00 160.47 L561.00 154.92 L562.00 149.94 L563.00 145.15 L563.96 146.58 L564.91 147.80 L565.87 149.11 L566.83 149.95 L567.79 150.93 L568.74 152.11 L569.70 152.86 L570.61 154.05 L571.52 154.64 L572.43 156.48 L573.34 157.03 L574.26 158.82 L575.17 159.65 L576.08 160.40 L576.99 161.33 L577.90 162.55 L578.81 163.67 L579.72 164.47 L580.63 164.61 L581.54 165.30 L582.46 166.49 L583.37 167.28 L584.28 167.82 L585.19 168.39 L586.10 169.50 L587.02 169.45 L587.94 170.29 L588.87 170.99 L589.79 172.04 L590.71 172.27 L591.63 173.05 L592.56 173.19 L593.48 173.49 L594.40 174.05 L595.31 175.13 L596.22 175.24 L597.13 175.21 L598.04 175.29 L598.96 176.13 L599.87 176.67 L600.78 176.79 L601.69 176.99 L602.60 177.77 L603.52 178.34 L604.45 177.95 L605.38 178.07 L606.30 178.69 L607.23 179.08 L608.15 179.66 L609.08 179.49 L610.00 180.40 L611.00 180.59 L612.00 180.60 L613.00 180.56 L614.00 181.57 L615.00 181.16 L616.00 181.92 L616.97 181.49 L617.95 181.65 L618.92 182.35 L619.89 182.05 L620.86 182.87 L621.84 182.58 L622.81 182.43 L623.78 182.63 L624.75 182.99 L625.73 183.40 L626.70 183.85 L627.67 183.12 L628.65 183.44 L629.62 183.33 L630.59 184.17 L631.56 183.41 L632.54 183.39 L633.51 183.47 L634.48 183.88 L635.45 184.45 L636.43 184.51 L637.40 184.43 L638.31 184.75 L639.22 184.74 L640.12 184.19 L641.03 184.10 L641.94 184.91 L642.85 184.77 L643.75 184.11 L644.66 184.80 L645.57 184.56 L646.48 184.61 L647.38 184.62 L648.29 184.52 L649.20 184.90" stroke="#6e6e6e" stroke-width="1.8" fill="none" stroke-linejoin="round"/>
<path d="M556.50 186.70 L557.60 179.27 L558.70 171.83 L559.80 163.90 L560.82 163.15 L561.85 162.20 L562.88 161.78 L563.90 159.92 L564.87 161.05 L565.83 160.57 L566.80 161.01 L567.77 161.75 L568.73 162.04 L569.70 161.93 L570.61 161.90 L571.52 162.68 L572.43 162.94 L573.34 163.84 L574.26 163.47 L575.17 164.00 L576.08 164.89 L576.99 164.37 L577.90 165.11 L578.81 165.88 L579.72 166.20 L580.63 165.84 L581.54 166.20 L582.46 166.60 L583.37 167.82 L584.28 167.52 L585.19 168.38 L586.10 168.90 L587.02 168.81 L587.94 169.21 L588.87 170.36 L589.79 170.48 L590.71 170.60 L591.63 171.52 L592.56 171.58 L593.48 172.01 L594.40 172.20 L595.31 173.22 L596.22 173.65 L597.13 173.63 L598.04 174.21 L598.96 173.56 L599.87 174.03 L600.78 174.54 L601.69 175.29 L602.60 175.55 L603.52 175.26 L604.45 175.40 L605.38 175.85 L606.30 176.19 L607.23 176.90 L608.15 176.43 L609.08 177.33 L610.00 177.54 L611.00 177.62 L612.00 177.57 L613.00 177.41 L614.00 177.13 L615.00 177.12 L616.00 177.16 L616.97 177.55 L617.95 176.81 L618.92 176.89 L619.89 177.41 L620.86 176.87 L621.84 176.65 L622.81 176.58 L623.78 177.06 L624.75 176.80 L625.73 177.42 L626.70 177.28 L627.67 177.39 L628.65 176.66 L629.62 176.48 L630.59 176.50 L631.56 176.90 L632.54 177.11 L633.51 176.85 L634.48 176.63 L635.45 176.82 L636.43 177.02 L637.40 177.07 L638.31 177.38 L639.22 177.71 L640.12 177.76 L641.03 177.44 L641.94 178.39 L642.85 178.08 L643.75 178.58 L644.66 178.62 L645.57 179.21 L646.48 178.91 L647.38 179.19 L648.29 179.41 L649.20 179.90" stroke="#1b68a8" stroke-width="1.8" fill="none" stroke-linejoin="round"/>
<path d="M544.90 187.20 L545.92 187.28 L546.94 187.36 L547.96 187.44 L548.98 187.52 L550.00 187.60 L550.90 187.50 L551.80 187.40 L552.70 187.30 L553.60 187.20 L554.00 196.50 L554.60 188.00 L555.55 187.35 L556.50 186.70 L557.67 176.13 L558.83 165.57 L560.00 154.65 L561.00 149.75 L562.00 143.81 L563.00 137.93 L563.96 138.81 L564.91 140.22 L565.87 140.55 L566.83 141.09 L567.79 142.48 L568.74 143.14 L569.70 144.29 L570.61 144.59 L571.52 146.15 L572.43 147.69 L573.34 148.90 L574.26 150.16 L575.17 150.47 L576.08 151.92 L576.99 152.93 L577.90 154.19 L578.81 155.90 L579.72 156.43 L580.63 157.70 L581.54 158.06 L582.46 159.48 L583.37 159.98 L584.28 160.72 L585.19 162.16 L586.10 163.25 L587.02 162.95 L587.94 163.99 L588.87 164.55 L589.79 164.70 L590.71 165.39 L591.63 165.71 L592.56 166.32 L593.48 166.91 L594.40 167.80 L595.31 168.31 L596.22 168.31 L597.13 168.58 L598.04 169.35 L598.96 170.16 L599.87 170.12 L600.78 170.70 L601.69 171.05 L602.60 172.10 L603.52 172.20 L604.45 172.06 L605.38 172.45 L606.30 173.10 L607.23 173.60 L608.15 174.04 L609.08 173.84 L610.00 174.26 L611.00 175.25 L612.00 175.41 L613.00 175.73 L614.00 176.21 L615.00 177.30 L616.00 177.11 L616.97 177.52 L617.95 177.47 L618.92 177.68 L619.89 178.28 L620.86 178.57 L621.84 178.09 L622.81 178.08 L623.78 178.76 L624.75 178.39 L625.73 178.35 L626.70 179.40 L627.67 179.07 L628.65 179.61 L629.62 179.34 L630.59 179.96 L631.56 179.69 L632.54 179.54 L633.51 179.53 L634.48 180.22 L635.45 180.45 L636.43 180.86 L637.40 180.19 L638.31 180.97 L639.22 180.96 L640.12 181.34 L641.03 181.23 L641.94 181.61 L642.85 182.10 L643.75 182.75 L644.66 182.18 L645.57 182.81 L646.48 183.37 L647.38 183.77 L648.29 183.25 L649.20 183.80" stroke="#cb621e" stroke-width="1.8" fill="none" stroke-linejoin="round"/>
<line x1="570.5" y1="151.2" x2="589.5" y2="140.2" stroke="#6e6e6e" stroke-width="1.5" stroke-dasharray="3 2.6"/>
<text x="556.86" y="132.7" font-size="16.5" fill="#cb621e" textLength="10.38" lengthAdjust="spacingAndGlyphs">2</text>
<text x="591.22" y="142.7" font-size="16.8" fill="#777" textLength="9.97" lengthAdjust="spacingAndGlyphs">3</text>
<text x="563.35" y="181.4" font-size="16.5" fill="#1b68a8" textLength="6.19" lengthAdjust="spacingAndGlyphs">1</text>
<rect x="629.1" y="121.2" width="1.9" height="23.7" fill="#000"/>
<text x="633.82" y="138.7" font-size="14" fill="#000" textLength="33.14" lengthAdjust="spacingAndGlyphs">1 mV</text>
<rect x="646.1" y="146.2" width="23.5" height="2.1" fill="#000"/>
<text x="634.79" y="164.3" font-size="14" fill="#000" textLength="38.52" lengthAdjust="spacingAndGlyphs">20 ms</text>
</svg>
</body></html>
